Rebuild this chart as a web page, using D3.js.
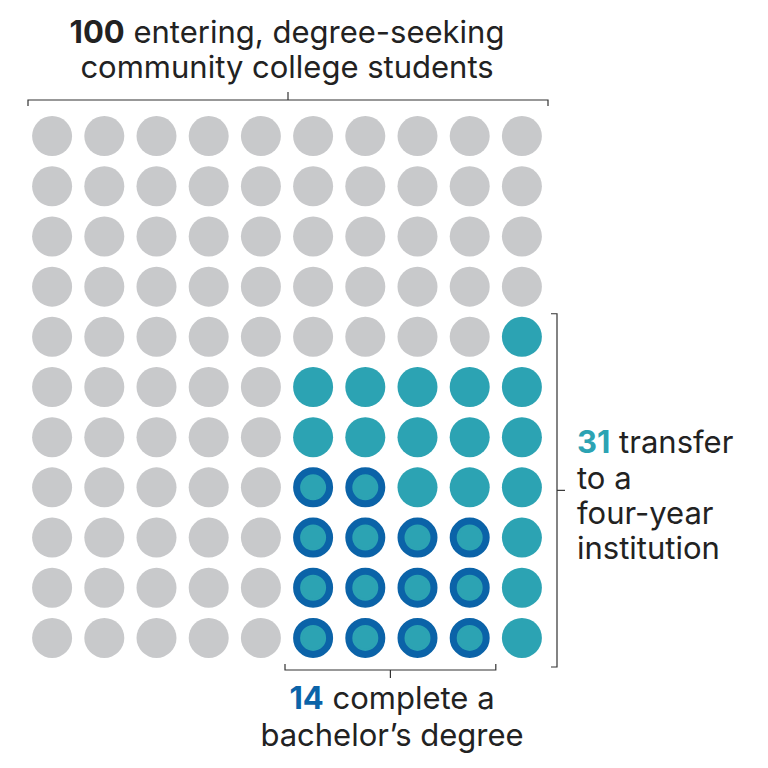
<!DOCTYPE html>
<html><head><meta charset="utf-8">
<script src="https://cdn.jsdelivr.net/npm/d3@7"></script>
<style>body{margin:0;background:#fff}text{font-family:Inter,"Noto Sans",sans-serif}</style>
</head><body><svg id="c" width="768" height="768"></svg>
<script>
// cell status per row: g = not transferring, t = transfer, b = transfer + bachelor's
const gridRows = [
  "gggggggggg","gggggggggg","gggggggggg","gggggggggg",
  "gggggggggt","gggggttttt","gggggttttt","gggggbbttt",
  "gggggbbbbt","gggggbbbbt","gggggbbbbt"
];
const columns = d3.range(10);
const totalLabel = ["100", " entering, degree-seeking", "community college students"];
const transferLabel = ["31", " transfer", "to a", "four-year", "institution"];
const bachelorLabel = ["14", " complete a", "bachelor’s degree"];
const colors = {g:"#c8c9cb", t:"#2ca3b3", b:"#0b63a8"};

const svg = d3.select("#c");
const x = d3.scaleBand().domain(columns).range([26,548]);
const y = d3.scaleBand().domain(d3.range(gridRows.length)).range([111,663]);
const r = 20;
const cells = [];
gridRows.forEach((row,i)=>row.split("").forEach((s,j)=>cells.push({i,j,s})));
const cx = d=>x(d.j)+x.bandwidth()/2, cy = d=>y(d.i)+y.bandwidth()/2;
svg.selectAll("circle.c").data(cells).join("circle")
  .attr("cx",cx).attr("cy",cy)
  .attr("r",d=>d.s==="b"?r-3.5:r)
  .attr("fill",d=>d.s==="b"?colors.t:colors[d.s])
  .attr("stroke",d=>d.s==="b"?colors.b:"none")
  .attr("stroke-width",7);
svg.selectAll("circle.c2").data(cells.filter(d=>d.s==="b")).join("circle")
  .attr("cx",cx).attr("cy",cy).attr("r",11).attr("fill",colors.t);

const line = (pts)=>svg.append("path").attr("d",d3.line()(pts)).attr("fill","none").attr("stroke","#333").attr("stroke-width",1.2);
// top bracket
line([[28,106],[28,100],[548,100],[548,106]]); line([[288,100],[288,92]]);
// right bracket
const ty0=y(4)+2, ty1=y(10)+y.bandwidth()+4;
line([[551,ty0],[557,ty0],[557,ty1],[551,ty1]]); line([[557,(ty0+ty1)/2],[565,(ty0+ty1)/2]]);
// bottom bracket
const bx0=x(5)-2, bx1=x(8)+x.bandwidth();
line([[bx0,664],[bx0,670],[bx1,670],[bx1,664]]); line([[(bx0+bx1)/2,670],[(bx0+bx1)/2,678]]);

const t1 = svg.append("text").attr("x",287).attr("y",43).attr("text-anchor","middle").attr("font-size",31).attr("fill","#222");
t1.append("tspan").attr("font-weight",700).text(totalLabel[0]);
t1.append("tspan").text(totalLabel[1]);
svg.append("text").attr("x",287).attr("y",78).attr("text-anchor","middle").attr("font-size",31).attr("fill","#222").text(totalLabel[2]);

const t2 = svg.append("text").attr("x",577).attr("y",453).attr("font-size",31).attr("fill","#222");
t2.append("tspan").attr("font-weight",700).attr("fill",colors.t).text(transferLabel[0]);
t2.append("tspan").text(transferLabel[1]);
transferLabel.slice(2).forEach((s,k)=>svg.append("text").attr("x",577).attr("y",489+k*35).attr("font-size",31).attr("fill","#222").text(s));

const t3 = svg.append("text").attr("x",392).attr("y",709).attr("text-anchor","middle").attr("font-size",31).attr("fill","#222");
t3.append("tspan").attr("font-weight",700).attr("fill",colors.b).text(bachelorLabel[0]);
t3.append("tspan").text(bachelorLabel[1]);
svg.append("text").attr("x",392).attr("y",746).attr("text-anchor","middle").attr("font-size",31).attr("fill","#222").text(bachelorLabel[2]);
</script></body></html>
